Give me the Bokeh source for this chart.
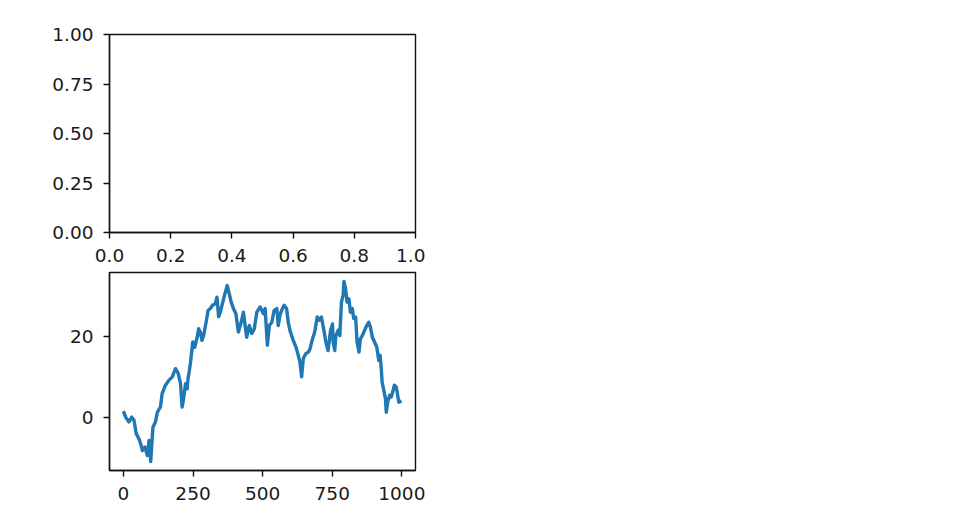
from bokeh.plotting import figure
from bokeh.layouts import column
from bokeh.models import Range1d, FixedTicker, PrintfTickFormatter
from bokeh.embed import file_html
from bokeh.resources import INLINE

# Values (step index, random-walk value)
step = [0, 8, 20, 30, 38, 46, 56, 62, 68, 77, 86, 92, 98, 106, 115, 122, 133, 139,
        151, 163, 175, 187, 197, 205, 211, 217, 223, 229, 232, 237, 241, 249, 256,
        265, 270, 276, 282, 288, 297, 304, 312, 320, 330, 336, 342, 348, 354, 363,
        373, 380, 387, 395, 404, 413, 423, 431, 437, 443, 452, 461, 470, 479, 491,
        503, 509, 517, 524, 533, 541, 551, 556, 562, 568, 577, 586, 592, 598, 604,
        610, 620, 628, 634, 640, 646, 655, 664, 670, 676, 681, 687, 696, 703, 711,
        720, 727, 735, 744, 751, 753, 759, 763, 771, 777, 783, 789, 792, 798, 803,
        810, 815, 822, 827, 834, 839, 846, 851, 858, 866, 874, 881, 887, 894, 902,
        910, 917, 922, 926, 929, 934, 941, 944, 949, 956, 962, 967, 973, 980, 985,
        989, 999]
walk = [1.5, 0.0, -1.2, 0.0, -0.8, -4.1, -5.4, -6.6, -8.3, -7.4, -9.5, -5.8, -11.0,
        -2.5, -1.2, 1.2, 2.5, 5.8, 7.9, 9.1, 9.9, 12.0, 10.8, 8.3, 2.5, 5.0, 8.3, 7.0,
        9.5, 11.6, 13.6, 18.6, 17.3, 19.8, 21.9, 21.1, 19.0, 20.2, 23.5, 26.4, 26.9,
        27.7, 28.1, 29.7, 24.9, 26.0, 27.7, 30.2, 32.6, 30.6, 28.5, 26.9, 25.6, 21.1,
        23.5, 26.0, 22.7, 19.8, 22.7, 20.7, 21.9, 26.0, 27.3, 25.6, 26.9, 17.8, 22.7,
        23.5, 26.4, 26.9, 22.7, 25.2, 26.4, 27.7, 26.9, 23.5, 21.5, 20.2, 19.0, 17.3,
        15.3, 13.6, 10.0, 14.5, 15.7, 16.1, 16.9, 18.6, 19.8, 21.1, 24.8, 24.0, 24.8,
        21.5, 18.6, 16.5, 21.5, 23.1, 18.6, 16.5, 20.2, 21.5, 20.2, 28.5, 30.2, 33.6,
        31.8, 28.5, 29.3, 26.0, 26.9, 24.4, 24.8, 18.6, 16.1, 19.4, 20.2, 21.5, 22.7,
        23.5, 22.3, 19.8, 18.6, 17.3, 14.0, 15.3, 12.0, 8.7, 7.0, 4.6, 1.2, 3.7, 5.4,
        5.0, 6.2, 7.9, 7.4, 5.4, 3.7, 4.0]

top_xticks = [0.0, 0.2, 0.4, 0.6, 0.8, 1.0]
top_yticks = [0.0, 0.25, 0.5, 0.75, 1.0]
bot_xticks = [0, 250, 500, 750, 1000]
bot_yticks = [0, 20]

FONT = "DejaVu Sans"
FS = "18.5px"


def style(p):
    p.grid.visible = False
    p.outline_line_color = "#111111"
    p.outline_line_width = 1.4
    p.background_fill_color = "white"
    p.border_fill_color = "white"
    for ax in (p.xaxis[0], p.yaxis[0]):
        ax.axis_line_color = "#111111"
        ax.axis_line_width = 1.4
        ax.major_tick_line_color = "#111111"
        ax.major_tick_line_width = 1.4
        ax.major_tick_in = 0
        ax.major_tick_out = 6
        ax.minor_tick_line_color = None
        ax.major_label_text_font = FONT
        ax.major_label_text_font_size = FS
        ax.major_label_text_color = "#1a1a1a"
    p.xaxis[0].major_label_standoff = 10
    p.yaxis[0].major_label_standoff = 10


p1 = figure(width=425, height=268, output_backend="svg", toolbar_location=None,
            x_range=Range1d(0, 1), y_range=Range1d(0, 1),
            min_border_left=109, min_border_right=10, min_border_top=34,
            min_border_bottom=36)
style(p1)
p1.xaxis[0].ticker = FixedTicker(ticks=top_xticks)
p1.yaxis[0].ticker = FixedTicker(ticks=top_yticks)
p1.xaxis[0].formatter = PrintfTickFormatter(format="%.1f")
p1.yaxis[0].formatter = PrintfTickFormatter(format="%.2f")

n = max(step)
ymin, ymax = min(walk), max(walk)
pad = 0.05 * (ymax - ymin)
p2 = figure(width=425, height=246, output_backend="svg", toolbar_location=None,
            x_range=Range1d(-0.05 * n, n * 1.05),
            y_range=Range1d(ymin - pad, ymax + pad),
            min_border_left=109, min_border_right=10, min_border_top=4,
            min_border_bottom=44)
style(p2)
p2.xaxis[0].ticker = FixedTicker(ticks=bot_xticks)
p2.yaxis[0].ticker = FixedTicker(ticks=bot_yticks)
p2.line(step, walk, line_color="#1f77b4", line_width=3.4, line_join="round")

layout = column(p1, p2, spacing=0)
open("out.html", "w").write(file_html(layout, INLINE))
